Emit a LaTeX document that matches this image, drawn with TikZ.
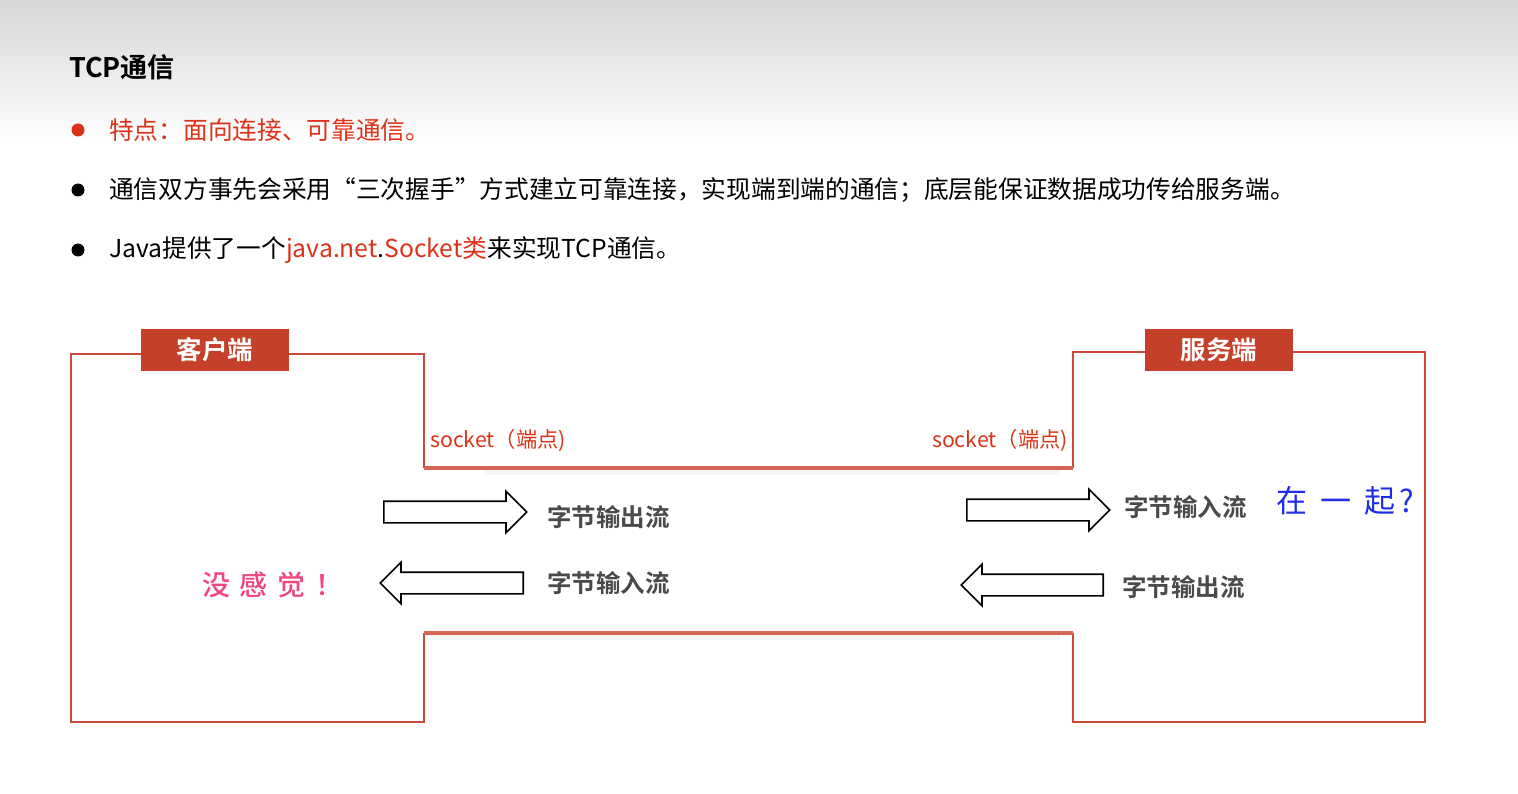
\documentclass[tikz,border=0pt]{standalone}
\usepackage{fontspec}
\setmainfont{Noto Sans CJK SC}
\newfontfamily\cjkbold{Noto Sans CJK SC Bold}
\newfontfamily\cjkmedium{Noto Sans CJK SC Medium}
\usetikzlibrary{shapes.arrows}

\definecolor{tagred}{HTML}{C5402A}
\definecolor{lineRed}{HTML}{CC4A3A}
\definecolor{textRed}{HTML}{DC3218}
\definecolor{flowGray}{HTML}{4A4A4A}
\definecolor{pinkish}{HTML}{F2457C}
\definecolor{blueish}{HTML}{1E2EE6}

\tikzstyle{tagbox}=[rectangle, fill=tagred, text=white, minimum width=148pt, minimum height=42pt, inner sep=0pt, font=\cjkbold\fontsize{25.5}{26}\selectfont]
\tikzstyle{bullettext}=[anchor=west, inner sep=0pt, font=\fontsize{24.7}{28}\selectfont]
\tikzstyle{flowtext}=[anchor=west, inner sep=0pt, text=flowGray, font=\cjkbold\fontsize{24.5}{26}\selectfont]
\tikzstyle{sockettext}=[inner sep=0pt, text=textRed, font=\fontsize{21.3}{24}\selectfont]
\tikzstyle{flow}=[single arrow, draw=black, line width=1.6pt, fill=white, inner xsep=0pt, inner ysep=10pt, single arrow head extend=10pt, single arrow tip angle=90, minimum width=0pt]

\begin{document}
\begin{tikzpicture}[x=1pt, y=-1pt]
    \useasboundingbox (0,0) rectangle (1518,794);
    \shade[top color=black!16, bottom color=white] (0,0) rectangle (1518,145);

    % heading and bullets
    \node[anchor=west, inner sep=0pt, font=\cjkbold\fontsize{27}{30}\selectfont] (title) at (69,67) {TCP通信};

    \fill[textRed] (78,130) circle (6.5);
    \node[bullettext, text=textRed] (feature) at (109,130) {特点：面向连接、可靠通信。};

    \fill[black] (78,190) circle (6.5);
    \node[bullettext] (handshake) at (109,190) {通信双方事先会采用“三次握手”方式建立可靠连接，实现端到端的通信；底层能保证数据成功传给服务端。};

    \fill[black] (78,250) circle (6.5);
    \node[bullettext] (javasocket) at (109,250) {Java提供了一个\textcolor{textRed}{java.net}.\textcolor{textRed}{Socket类}来实现TCP通信。};

    % client, server and the channel between them
    \coordinate (cTop) at (424,468);
    \coordinate (cBot) at (424,633);
    \coordinate (sTop) at (1073,468);
    \coordinate (sBot) at (1073,633);

    \draw[black!4, line width=5pt] (485,472) -- (1060,472);
    \draw[black!4, line width=5pt] (430,637) -- (1060,637);

    \draw[lineRed, line width=2.2pt] (cTop) -- (424,354) -- (71,354) -- (71,722) -- (424,722) -- (cBot);
    \draw[lineRed, line width=2.2pt] (sTop) -- (1073,352) -- (1425,352) -- (1425,722) -- (1073,722) -- (sBot);
    \draw[lineRed!85, line width=3.4pt] (cTop) -- (sTop);
    \draw[lineRed!85, line width=3.4pt] (cBot) -- (sBot);

    \node[tagbox] (client) at (215,350) {客户端};
    \node[tagbox] (server) at (1219,350) {服务端};

    \node[sockettext, anchor=west] (csocket) at (430,440) {socket（端点)};
    \node[sockettext, anchor=east] (ssocket) at (1068,440) {socket（端点)};

    % streams
    \node[flow, anchor=tail, minimum height=143pt] (cout) at (383,512) {};
    \node[flowtext] (couttext) at (547,517) {字节输出流};

    \node[flow, anchor=tail, minimum height=143pt, shape border rotate=180] (cin) at (524,583) {};
    \node[flowtext] (cintext) at (547,583) {字节输入流};

    \node[flow, anchor=tail, minimum height=143pt] (sin) at (966,510) {};
    \node[flowtext] (sintext) at (1124,507) {字节输入流};

    \node[flow, anchor=tail, minimum height=142pt, shape border rotate=180] (sout) at (1104,585) {};
    \node[flowtext] (souttext) at (1122,587) {字节输出流};

    % remarks
    \node[inner sep=0pt, text=pinkish, font=\cjkmedium\fontsize{28}{30}\selectfont] (nofeel) at (273,585) {没\hspace{10pt}感\hspace{10pt}觉\hspace{10pt}！};
    \node[inner sep=0pt, text=blueish, font=\fontsize{31}{33}\selectfont] (together) at (1345,501) {在\hspace{13pt}一\hspace{13pt}起\hspace{4pt}?};
\end{tikzpicture}
\end{document}
